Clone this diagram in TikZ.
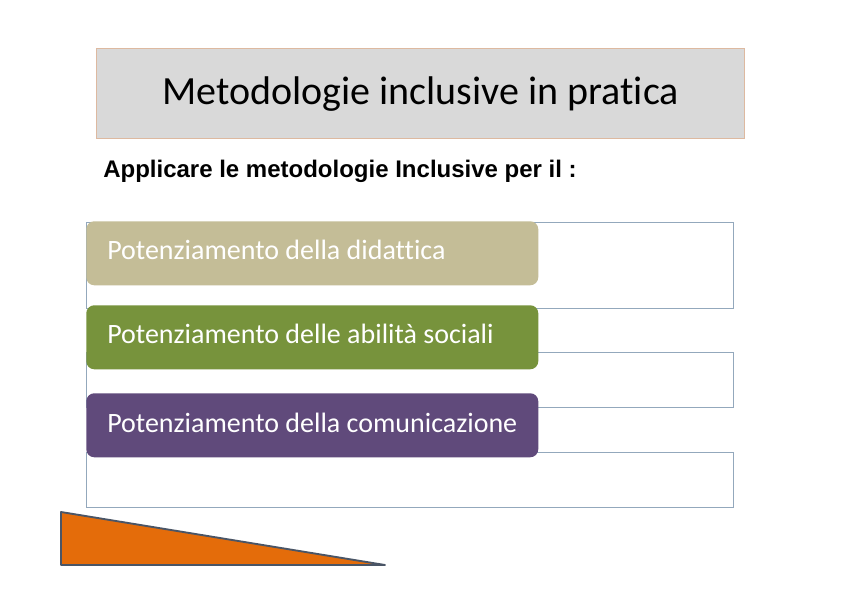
\documentclass[tikz,border=0pt]{standalone}
\usepackage{fontspec}
\setmainfont{Carlito}[Ligatures={NoCommon}]
\newfontfamily\arialfont{Liberation Sans}
\definecolor{titlefill}{HTML}{D9D9D9}
\definecolor{titleedge}{HTML}{DDB9A0}
\definecolor{outlineedge}{HTML}{93A8BC}
\definecolor{tanbox}{HTML}{C4BD97}
\definecolor{greenbox}{HTML}{77933C}
\definecolor{purplebox}{HTML}{604A7B}
\definecolor{rampfill}{HTML}{E46C0A}
\definecolor{rampedge}{HTML}{4A5566}
\begin{document}
\begin{tikzpicture}[x=0.75pt,y=-0.75pt,
  titlebox/.style={draw=titleedge, fill=titlefill, line width=1pt, inner sep=0pt,
    anchor=north west, minimum width=648*0.75pt, minimum height=90*0.75pt,
    font=\fontsize{30}{36}\selectfont},
  outlinebox/.style={draw=outlineedge, fill=white, line width=0.9pt, inner sep=0pt,
    anchor=north west, minimum width=647*0.75pt},
  colorbox/.style={rounded corners=6pt, inner sep=0pt,
    anchor=north west, minimum width=452*0.75pt, minimum height=64*0.75pt},
  boxtext/.style={anchor=west, inner sep=0pt, text=white, font=\fontsize{21}{25}\selectfont},
  subtitle/.style={anchor=west, inner sep=0pt, font=\arialfont\bfseries\fontsize{18}{21}\selectfont}
]
\useasboundingbox (0,0) rectangle (841,595);
\fill[white] (0,0) rectangle (841,595);

\node[titlebox] (title) at (96,48) {Metodologie inclusive in pratica};
\node[subtitle] (sub) at (103,171) {Applicare le metodologie Inclusive per il :};

\node[outlinebox, minimum height=86*0.75pt] (o1) at (86,222) {};
\node[outlinebox, minimum height=55*0.75pt] (o2) at (86,352) {};
\node[outlinebox, minimum height=55*0.75pt] (o3) at (86,452) {};

\node[colorbox, fill=tanbox] (b1) at (86,221) {};
\node[colorbox, fill=greenbox] (b2) at (86,305) {};
\node[colorbox, fill=purplebox] (b3) at (86,393) {};
\node[boxtext] (t1) at (107,250) {Potenziamento della didattica};
\node[boxtext] (t2) at (107,334) {Potenziamento delle abilità sociali};
\node[boxtext] (t3) at (107,423) {Potenziamento della comunicazione};

\coordinate (r1) at (61,512);
\coordinate (r2) at (61,565);
\coordinate (r3) at (385,565);
\fill[rampfill] (r1) -- (r2) -- (r3) -- cycle;
\draw[rampedge, line width=1.4pt, line join=round] (r2) -- (r1) -- (r3) -- cycle;
\end{tikzpicture}
\end{document}
